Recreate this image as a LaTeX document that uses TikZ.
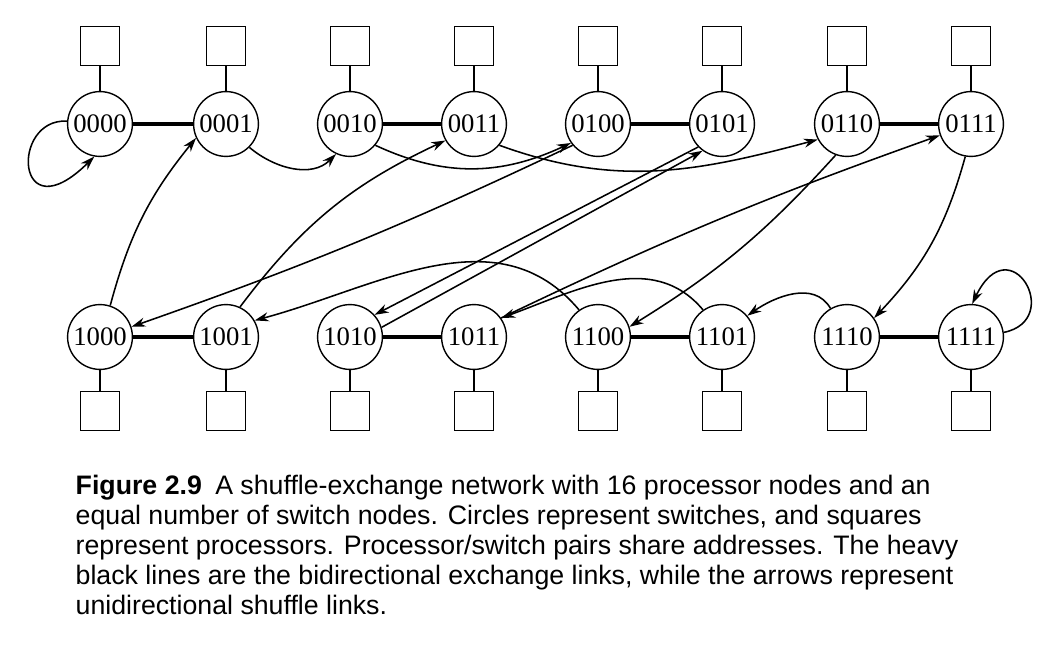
\documentclass[tikz,border=0pt]{standalone}
\usepackage{fontspec}
\setmainfont{Liberation Serif}
\newfontfamily\capfont{Liberation Sans}
\usetikzlibrary{arrows.meta, positioning}

\begin{document}
\begin{tikzpicture}[x=0.025cm, y=-0.025cm, >={Stealth[length=10pt,width=6.5pt]}, line width=1pt,
  switch/.style={draw, circle, minimum size=1.62cm, inner sep=0pt, font=\fontsize{19}{19}\selectfont},
  proc/.style={draw, minimum size=0.97cm, inner sep=0pt},
  exch/.style={line width=2.2pt},
  shuf/.style={->, line width=1.1pt}]
\useasboundingbox (0,0) rectangle (1044,649);
% switches and processors
\foreach \lab/\x in {0000/100, 0001/226, 0010/350, 0011/474, 0100/598, 0101/722, 0110/847, 0111/971} {
  \node[switch] (s\lab) at (\x,124) {\lab};
  \node[proc] (p\lab) at (\x,46) {};
  \draw (p\lab) -- (s\lab);
}
\foreach \lab/\x in {1000/100, 1001/226, 1010/350, 1011/474, 1100/598, 1101/722, 1110/847, 1111/971} {
  \node[switch] (s\lab) at (\x,337) {\lab};
  \node[proc] (p\lab) at (\x,411) {};
  \draw (s\lab) -- (p\lab);
}
% exchange links
\foreach \a/\b in {0000/0001, 0010/0011, 0100/0101, 0110/0111, 1000/1001, 1010/1011, 1100/1101, 1110/1111}
  \draw[exch] (s\a) -- (s\b);
% shuffle links
\draw[shuf] (s0000.175) .. controls (10,118) and (15,235) .. (s0000.-100);
\draw[shuf] (s1000.72) to[bend left=12] (s0001.205);
\draw[shuf] (s0001.-45) to[out=-40, in=-135] (s0010.-115);
\draw[shuf] (s1001.65) to[bend left=14] (s0011.210);
\draw[shuf] (s0010.-40) to[out=-25, in=205] (s0100.215);
\draw[shuf] (s0011.-40) to[out=-20, in=195] (s0110.208);
\draw[shuf] (s0100.220) to[bend left=3] (s1000.18);
\draw[shuf] (s0101.224) -- (s1010.42);
\draw[shuf] (s1010.17) -- (s0101.234);
\draw[shuf] (s0110.-110) to[bend left=8] (s1100.18);
\draw[shuf] (s0111.-100) to[bend left=14] (s1110.35);
\draw[shuf] (s1011.35) to[bend left=3] (s0111.200);
\draw[shuf] (s1100.125) to[out=130, in=15] (s1001.30);
\draw[shuf] (s1101.125) to[out=130, in=20] (s1011.35);
\draw[shuf] (s1110.120) to[out=120, in=35] (s1101.40);
\draw[shuf] (s1111.8) .. controls (1065,320) and (1010,225) .. (s1111.88);
% caption
\node[anchor=north west, align=left, inner sep=0pt, font=\capfont\fontsize{19}{21.4}\selectfont] (cap) at (75,474)
  {{\bfseries Figure 2.9}\enspace A shuffle-exchange network with 16 processor nodes and an\\
   equal number of switch nodes. Circles represent switches, and squares\\
   represent processors. Processor/switch pairs share addresses. The heavy\\
   black lines are the bidirectional exchange links, while the arrows represent\\
   unidirectional shuffle links.};
\end{tikzpicture}
\end{document}
